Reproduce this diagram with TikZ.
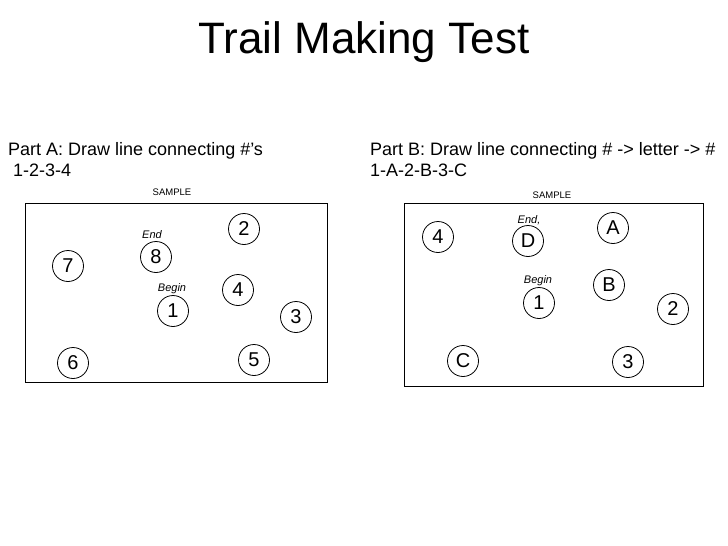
\documentclass[tikz,border=0pt]{standalone}
\usepackage{fontspec}
\setmainfont{Liberation Sans}
\usepackage{tikz}

\begin{document}
\begin{tikzpicture}[x=1pt,y=-1pt,
 dot/.style={draw,circle,thick,minimum size=31pt,inner sep=0pt,font=\fontsize{20}{20}\selectfont},
 sheet/.style={draw,thick},
 tag/.style={font=\fontsize{11}{11}\selectfont\itshape},
 samp/.style={font=\fontsize{9.5}{9.5}\selectfont},
 txt/.style={anchor=base west,inner sep=0pt,font=\fontsize{18}{18}\selectfont}]
\useasboundingbox[fill=white] (0,0) rectangle (728,546);
\node[anchor=base,font=\fontsize{44}{44}\selectfont] (title) at (364,53) {Trail Making Test};
\node[txt] (parta) at (8,155) {Part A: Draw line connecting \#’s};
\node[txt] (seqa) at (8,176) {\ 1-2-3-4};
\node[txt] (partb) at (370,155) {Part B: Draw line connecting \# -> letter -> \#};
\node[txt] (seqb) at (370,176) {1-A-2-B-3-C};
% part A sample
\draw[sheet] (25,203) rectangle (327,382);
\node[samp] (sampa) at (172,192) {SAMPLE};
\node[dot] (a2) at (244,229) {2};
\node[dot] (a8) at (156,257) {8};
\node[tag] (enda) at (152,235) {End};
\node[dot] (a7) at (68,266) {7};
\node[dot] (a4) at (238,290) {4};
\node[tag] (begina) at (172,289) {Begin};
\node[dot] (a1) at (173,311) {1};
\node[dot] (a3) at (296,317) {3};
\node[dot] (a6) at (73,363) {6};
\node[dot] (a5) at (254,360) {5};
% part B sample
\draw[sheet] (404,203) rectangle (703,386);
\node[samp] (sampb) at (552,195) {SAMPLE};
\node[dot] (b4) at (438,237) {4};
\node[tag] (endb) at (529,220) {End,};
\node[dot] (bD) at (528,241) {D};
\node[dot] (bA) at (613,228) {A};
\node[tag] (beginb) at (538,281) {Begin};
\node[dot] (bB) at (609,285) {B};
\node[dot] (b1) at (539,303) {1};
\node[dot] (b2) at (673,309) {2};
\node[dot] (bC) at (463,361) {C};
\node[dot] (b3) at (628,362) {3};
\end{tikzpicture}
\end{document}
